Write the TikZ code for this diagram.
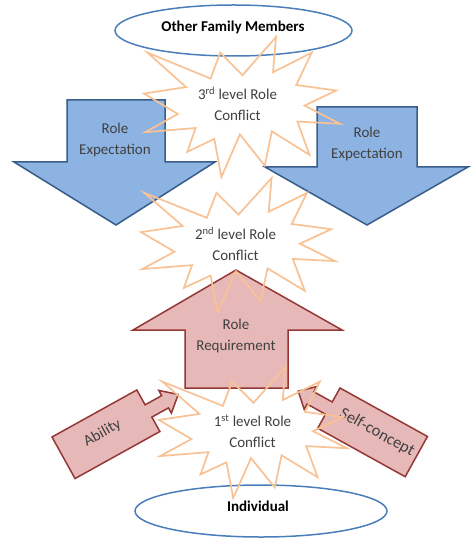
\documentclass[tikz,border=0pt]{standalone}
\usepackage{fontspec}
\setmainfont{Carlito}
\usetikzlibrary{shapes.geometric}
\definecolor{bluefill}{RGB}{141,179,226}
\definecolor{blueline}{RGB}{56,93,138}
\definecolor{redfill}{RGB}{230,185,184}
\definecolor{redline}{RGB}{149,55,53}
\definecolor{ellline}{RGB}{74,126,187}
\definecolor{starcol}{RGB}{249,194,148}
\definecolor{txt}{RGB}{64,64,64}
\tikzset{
 bluearrow/.style={fill=bluefill, draw=blueline, line width=1.5bp, line join=miter},
 redarrow/.style={fill=redfill, draw=redline, line width=1.5bp, line join=miter},
 oval/.style={ellipse, draw=ellline, fill=white, line width=1.5bp, inner sep=0pt},
 starline/.style={draw=starcol, line width=1.7bp, line join=miter},
 lbl/.style={text=txt, align=center, font=\fontsize{15bp}{21bp}\selectfont, inner sep=0pt},
 blbl/.style={text=black, font=\fontsize{15bp}{18bp}\selectfont\bfseries, inner sep=0pt},
}
\newcommand\explosiondraw{\draw[starline] (0.505,0.273) -- (0.392,0.111) -- (0.343,0.297) -- (0.022,0.111) -- (0.219,0.358) -- (0.005,0.404) -- (0.177,0.550) -- (0.011,0.680) -- (0.267,0.650) -- (0.225,0.820) -- (0.362,0.728) -- (0.398,1) -- (0.492,0.696) -- (0.618,0.919) -- (0.654,0.674) -- (0.845,0.842) -- (0.784,0.604) -- (1,0.620) -- (0.820,0.490) -- (0.981,0.382) -- (0.778,0.343) -- (0.856,0.112) -- (0.660,0.252) -- (0.675,0) -- cycle;}
\begin{document}
\begin{tikzpicture}[x=1bp,y=-1bp]
\useasboundingbox (0,0) rectangle (474,541);
\fill[white] (0,0) rectangle (474,541);
% ovals
\node[oval, minimum width=237bp, minimum height=51bp] (topoval) at (233.5,30.5) {};
\node[oval, minimum width=252bp, minimum height=52bp] (botoval) at (261,511) {};
% blue arrows
\draw[bluearrow] (67,100) -- (165,100) -- (165,162) -- (215,162) -- (116,225) -- (14,162) -- (67,162) -- cycle;
\draw[bluearrow] (317,107) -- (417,107) -- (417,167) -- (468,167) -- (367,225) -- (265,167) -- (317,167) -- cycle;
% red up arrow
\draw[redarrow] (185,388) -- (185,330) -- (133,330) -- (236,270) -- (342,330) -- (288,330) -- (288,388) -- cycle;
% ability
\begin{scope}[shift={(52,437)}, rotate=29]
\draw[redarrow] (0,0) -- (97,0) -- (97,17) -- (116,17) -- (116,11) -- (131,24) -- (116,37) -- (116,31) -- (97,31) -- (97,47.5) -- (0,47.5) -- cycle;
\node[lbl, rotate=29, font=\fontsize{15.5bp}{18bp}\selectfont] (ab) at (46,21) {Ability};
\end{scope}
% self-concept
\begin{scope}[shift={(340,388)}, rotate=-29]
\draw[redarrow] (0,0) -- (100,0) -- (100,46) -- (0,46) -- (0,30) -- (-21,30) -- (-21,36) -- (-35,23) -- (-21,10) -- (-21,16) -- (0,16) -- cycle;
\node[lbl, rotate=-29, font=\fontsize{16.5bp}{18bp}\selectfont] (sc) at (54,21) {Self-concept};
\end{scope}
% explosions
\begin{scope}[shift={(143,37)}, x=197bp, y=-140bp]
\explosiondraw
\end{scope}
\begin{scope}[shift={(140,178)}, x=195bp, y=-134bp]
\explosiondraw
\end{scope}
\begin{scope}[shift={(158,367)}, x=189bp, y=-131bp]
\explosiondraw
\end{scope}
% labels
\node[blbl] (ofm) at (233,27.5) {Other Family Members};
\node[blbl] (ind) at (258,506) {Individual};
\node[lbl] (t3) at (237.5,104) {3\textsuperscript{rd} level Role\\Conflict};
\node[lbl] (e1) at (115,140) {Role\\Expectation};
\node[lbl] (e2) at (367,144) {Role\\Expectation};
\node[lbl] (t2) at (235.5,244) {2\textsuperscript{nd} level Role\\Conflict};
\node[lbl] (rr) at (236,336) {Role\\Requirement};
\node[lbl] (t1) at (252.5,431) {1\textsuperscript{st} level Role\\Conflict};
\end{tikzpicture}
\end{document}
